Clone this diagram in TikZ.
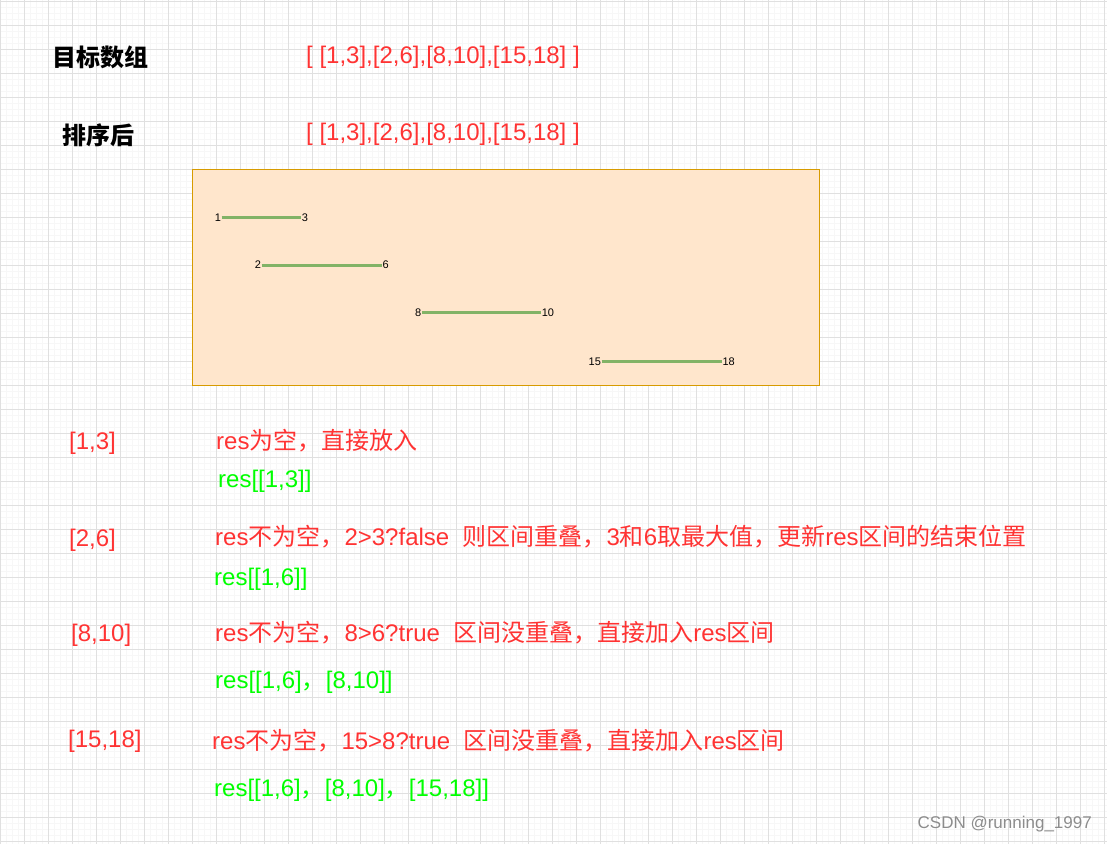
\documentclass[tikz,border=0pt]{standalone}
\usepackage{fontspec}
\setmainfont{Liberation Sans}
\newfontfamily\cjk{Noto Sans CJK SC}
\newcommand{\zh}[1]{{\cjk #1}}

\definecolor{boxfill}{HTML}{FFE6CC}
\definecolor{boxline}{HTML}{D79B00}
\definecolor{segline}{HTML}{82B366}
\definecolor{stepred}{HTML}{FF3333}
\definecolor{resgreen}{HTML}{00FF00}

\tikzset{
	title/.style={anchor=west, inner sep=0pt, font=\fontsize{24}{28}\selectfont\bfseries},
	redtext/.style={anchor=west, inner sep=0pt, text=stepred, font=\fontsize{24}{28}\selectfont},
	greentext/.style={anchor=west, inner sep=0pt, text=resgreen, font=\fontsize{24}{28}\selectfont},
	endlabel/.style={inner sep=0.6pt, font=\fontsize{11}{13}\selectfont},
	seg/.style={segline, line width=3pt}
}

\begin{document}
\begin{tikzpicture}[x=1pt, y=-1pt]
	\useasboundingbox (0, 0) rectangle (1107, 843);

	% background grid
	\begin{scope}[shift={(0.5, 1)}]
		\draw[step=6pt, black!3, line width=0.6pt] (-1, 843) grid (1107, -1);
		\draw[step=24pt, black!12, line width=0.9pt] (-1, 843) grid (1107, -1);
	\end{scope}

	\node[title] (target) at (52, 57) {\zh{目标数组}};
	\node[title] (sorted) at (62, 135) {\zh{排序后}};

	\node[redtext] (arrA) at (306, 57) {[ [1,3],[2,6],[8,10],[15,18] ]};
	\node[redtext] (arrB) at (306, 134) {[ [1,3],[2,6],[8,10],[15,18] ]};

	% intervals on the number line
	\filldraw[fill=boxfill, draw=boxline, line width=1pt]
		(192.5, 169.5) rectangle (819.5, 385.5);

	\node[endlabel, anchor=east] (s1) at (221.7, 217.3) {1};
	\node[endlabel, anchor=west] (e1) at (301, 217.3) {3};
	\node[endlabel, anchor=east] (s2) at (261.7, 265) {2};
	\node[endlabel, anchor=west] (e2) at (381.7, 265) {6};
	\node[endlabel, anchor=east] (s3) at (422, 312.7) {8};
	\node[endlabel, anchor=west] (e3) at (541, 312.7) {10};
	\node[endlabel, anchor=east] (s4) at (601.7, 361.7) {15};
	\node[endlabel, anchor=west] (e4) at (721.7, 361.7) {18};

	\foreach \i in {1,...,4}
		\draw[seg] (s\i) -- (e\i);

	% merge steps
	\node[redtext] (int1) at (69, 443) {[1,3]};
	\node[redtext] (step1) at (216, 441) {res\zh{为空，直接放入}};
	\node[greentext] (res1) at (218, 481) {res[[1,3]]};

	\node[redtext] (int2) at (69, 540) {[2,6]};
	\node[redtext] (step2) at (215, 537)
		{res\zh{不为空，}2>3?false\ \ \zh{则区间重叠，}3\zh{和}6\zh{取最大值，更新}res\zh{区间的结束位置}};
	\node[greentext] (res2) at (214, 579) {res[[1,6]]};

	\node[redtext] (int3) at (71, 635) {[8,10]};
	\node[redtext] (step3) at (215, 633)
		{res\zh{不为空，}8>6?true\ \ \zh{区间没重叠，直接加入}res\zh{区间}};
	\node[greentext] (res3) at (215, 682) {res[[1,6]\zh{，}[8,10]]};

	\node[redtext] (int4) at (68, 741) {[15,18]};
	\node[redtext] (step4) at (212, 741)
		{res\zh{不为空，}15>8?true\ \ \zh{区间没重叠，直接加入}res\zh{区间}};
	\node[greentext] (res4) at (214, 790) {res[[1,6]\zh{，}[8,10]\zh{，}[15,18]]};

	\node[anchor=east, inner sep=0pt, text=black!45, font=\fontsize{17}{20}\selectfont]
		(mark) at (1092, 824) {CSDN @running\_1997};
\end{tikzpicture}
\end{document}
